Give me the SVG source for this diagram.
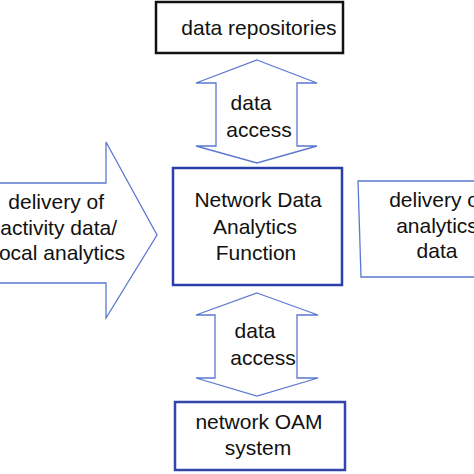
<svg xmlns="http://www.w3.org/2000/svg" width="474" height="474" viewBox="0 0 474 474">
<style>
text{font-family:"Liberation Sans",Arial,sans-serif;font-size:21px;fill:#111;}
.m{text-anchor:middle}
.e{text-anchor:end}
.box{fill:#fff;stroke-width:2.5}
.arrow{fill:#fff;stroke:#5b78d0;stroke-width:1.3;stroke-linejoin:miter}
</style>
<rect width="474" height="474" fill="#fff"/>
<g id="connectors">
<g id="arrow-repo">
<polygon class="arrow" points="257,60 317,83 297,83 297,146 317,146 257,163 196,146 216,146 216,83 196,83"/>
<text class="m" x="251" y="110">data</text>
<text class="m" x="259" y="137">access</text>
</g>
<g id="arrow-oam">
<polygon class="arrow" points="257,293 318,315 297,315 297,378 318,378 257,396 196,378 215,378 215,315 196,315"/>
<text class="m" x="255" y="338">data</text>
<text class="m" x="263" y="365">access</text>
</g>
<g id="arrow-left">
<polygon class="arrow" points="-5,183 106,183 106,142 157,235 106,318 106,283 -5,283"/>
<text class="e" x="104" y="209">delivery of</text>
<text class="e" x="117" y="235">activity data/</text>
<text class="e" x="125" y="260">local analytics</text>
</g>
<g id="arrow-right">
<polygon class="arrow" points="358,181 480,181 480,277 361,277"/>
<text class="m" x="437" y="207">delivery of</text>
<text class="m" x="437" y="233">analytics</text>
<text class="m" x="437" y="258">data</text>
</g>
</g>
<g id="data-repositories">
<rect class="box" x="156" y="2" width="187" height="51" stroke="#111"/>
<text class="m" x="259" y="35">data repositories</text>
</g>
<g id="nwdaf">
<rect class="box" x="173" y="168" width="169" height="117" stroke="#2b3fa8"/>
<text class="m" x="258" y="207">Network Data</text>
<text class="m" x="255" y="234">Analytics</text>
<text class="m" x="256" y="260">Function</text>
</g>
<g id="network-oam">
<rect class="box" x="175" y="402" width="170" height="68" stroke="#3344aa"/>
<text class="m" x="259" y="429">network OAM</text>
<text class="m" x="258" y="455">system</text>
</g>
</svg>
